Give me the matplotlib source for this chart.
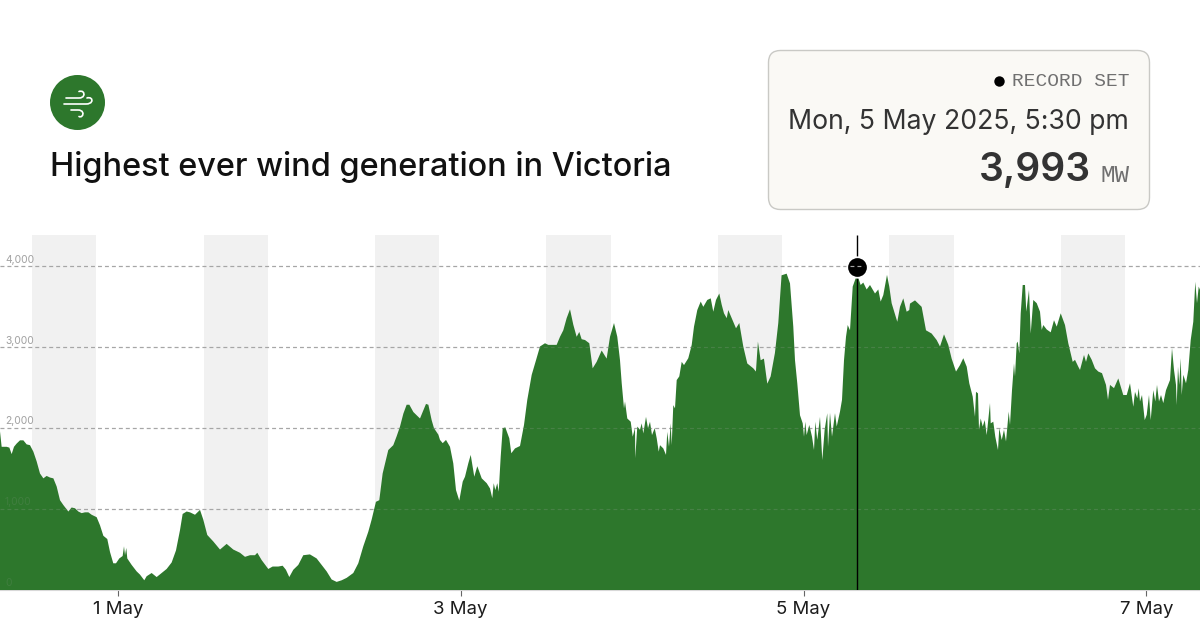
import matplotlib
matplotlib.use("Agg")
import matplotlib.pyplot as plt
from matplotlib.patches import Circle, FancyBboxPatch, PathPatch
from matplotlib.path import Path

# Victorian wind output, hours counted from 30 Apr 07:30 UTC, one pair of lists per stretch
hours_a = [0, .23, .56, .93, 1.31, 1.63, 1.96, 2.33, 2.8, 3.27, 3.73, 4.2, 4.67, 5.13, 5.6, 6.07, 6.53, 7, 7.47, 7.93,
    8.4, 8.87, 9.57, 10.03, 10.5, 10.97, 11.43, 11.9, 12.37, 12.83, 13.53, 14, 14.47, 15.02, 15.4, 15.86, 16.24, 16.7,
    17.17, 17.36, 17.5, 17.68, 17.82, 18.43, 19.13, 19.6, 20.2, 20.53, 21.23, 21.93, 22.63, 23.33, 24.03, 24.64, 25.2,
    25.57, 26.13, 26.6, 27.3, 28, 28.46, 29.02, 29.86, 30.8, 31.73, 32.66, 33.6, 34.3, 35, 35.7, 36.02, 36.63, 37.56,
    38.17, 38.96, 39.57, 40.03, 40.5, 41.06, 41.76, 42.46, 43.39, 44.33, 45.03, 45.73, 46.43, 47.13, 47.83, 48.53,
    49.46, 50.16, 50.86, 51.56, 52.03, 52.63, 53.1, 53.57, 54.36, 55.06, 55.53]
mw_a = [1960, 1770, 1770, 1770, 1760, 1680, 1770, 1810, 1850, 1850, 1800, 1790, 1710, 1590, 1440, 1380, 1410, 1390, 1380, 1280,
    1110, 1050, 970, 1020, 1010, 970, 950, 960, 960, 930, 900, 800, 670, 630, 470, 330, 330, 390,
    420, 540, 430, 520, 390, 310, 230, 190, 120, 170, 210, 160, 210, 260, 340, 490, 740,
    940, 970, 960, 930, 990, 870, 680, 600, 500, 570, 500, 460, 410, 430, 430, 460, 370, 260,
    290, 290, 300, 250, 160, 250, 310, 430, 440, 390, 310, 230, 130, 100, 120, 150,
    210, 330, 540, 720, 870, 1090, 1110, 1440, 1730, 1790, 1900]

hours_b = [56, 56.47, 56.93, 57.31, 57.87, 58.33, 58.8, 59.17, 59.64, 59.97, 60.43, 60.76, 61.37]
mw_b = [2020, 2180, 2290, 2290, 2200, 2160, 2120, 2200, 2300, 2290, 2100, 2000, 1920]

hours_c = [61.6, 61.98, 62.44, 63, 63.46, 63.84, 64.3, 64.78, 65.1, 65.56, 65.9, 66.4, 66.82, 67.44, 68.14, 68.6, 68.92,
    69.12, 69.34, 69.62, 69.82, 70.1, 70.38, 70.74, 71.3, 71.58, 72.1, 72.8, 73.36, 73.82, 74.44, 75.04, 75.6, 76.3]
mw_c = [1855, 1815, 1855, 1770, 1565, 1235, 1105, 1340, 1400, 1565, 1670, 1400, 1530, 1380, 1320, 1255, 1135,
    1320, 1235, 1320, 1215, 1650, 2000, 2010, 1875, 1690, 1750, 1780, 2040, 2350, 2660, 2840, 3010, 3050]

hours_d = [76.76, 77.93, 78.4, 78.86, 79.33, 79.8, 80.26, 80.73, 81.1, 81.43, 81.9, 82.5, 82.97, 83.53, 84.23, 84.93, 85.4,
    85.96, 86.42]
mw_d = [3030, 3030, 3130, 3210, 3360, 3470, 3280, 3130, 3190, 3100, 3090, 3050, 2740, 2820, 2960, 2860, 3130,
    3300, 3130]

hours_e = [86.8, 87.04, 87.36, 87.5, 87.82, 88.3, 88.58, 88.9, 88.94, 89.22, 89.6, 89.84, 90.06, 90.44, 90.72, 91, 91.28,
    91.66, 91.94, 92.22, 92.4, 92.86, 93.24, 93.42, 93.66, 93.9, 94.04, 94.26, 94.5, 94.74, 95.1, 95.44, 95.76, 96.36,
    96.84, 97.16, 97.62, 98.1, 98.46, 99.02, 99.5, 99.86, 100.24, 100.7, 101.04, 101.36, 101.74, 101.96, 102.44, 103.04,
    103.5]
mw_e = [2840, 2555, 2245, 2330, 2120, 2080, 1895, 2000, 1630, 2020, 1980, 2060, 1935, 2140, 2000, 2080, 1915,
    2000, 1875, 1710, 1790, 1750, 1670, 1955, 1770, 2060, 1790, 2285, 2245, 2595, 2640, 2820, 2780, 2865,
    3030, 3255, 3460, 3565, 3500, 3585, 3605, 3440, 3585, 3665, 3525, 3420, 3360, 3460, 3360, 3235,
    3300]

hours_f = [104.06, 104.62, 105.46, 105.83, 106.11, 106.49, 106.95, 107.42, 107.89, 108.49, 108.96, 109.42, 110.13]
mw_f = [3010, 2800, 2740, 2700, 3070, 2840, 2860, 2550, 2640, 2930, 3300, 3890, 3910]

hours_g = [110.6, 111.06, 111.3, 111.62, 112, 112.38, 112.56, 112.74, 112.93, 113.3, 113.68, 113.96, 114.14, 114.42, 114.8,
    115.12, 115.45, 115.82, 115.92, 116.2, 116.48, 116.9, 117.14, 117.6, 117.88, 118.16, 118.44, 118.68, 119, 119.38,
    119.8, 120.12, 120.49, 120.86, 121.33, 121.8, 122.5, 122.96, 123.29, 123.66, 124.18, 124.5, 124.83, 125.62, 126,
    126.46, 126.93, 127.3]
mw_g = [3790, 3255, 2840, 2555, 2160, 2060, 1895, 2080, 1915, 2040, 1895, 1730, 2080, 1855, 2140,
    1605, 1980, 2185, 1770, 2190, 1895, 2185, 2020, 2205, 2350, 2840, 3130, 3275, 3210, 3750,
    3855, 3870, 3770, 3800, 3715, 3770, 3665, 3715, 3565, 3645, 3895, 3750, 3545, 3315, 3500,
    3605, 3440, 3460]

hours_h = [127.4, 128.1, 129.03, 129.64, 130.43, 131.13, 131.6, 132.16, 132.76, 133.23, 133.84]
mw_h = [3540, 3580, 3500, 3210, 3170, 3090, 3010, 3160, 3030, 2860, 2700]

hours_i = [134.4, 134.86, 135.34, 135.7, 136.18, 136.5, 136.64, 136.92, 137.06, 137.3, 137.58, 137.86, 138.14, 138.6, 138.7,
    139.06, 139.34, 139.72, 139.9, 140.24, 140.56, 140.84, 141.22, 141.4, 141.68, 141.96, 142.1, 142.34, 142.48, 142.7,
    142.9, 143.18, 143.5, 143.68, 144.06, 144.3, 144.66, 145.14, 145.6, 145.84, 146.06, 146.54, 147.1, 147.56, 147.94,
    148.5, 149.1, 149.56, 150.18, 150.5, 150.96]
mw_i = [2780, 2865, 2760, 2555, 2390, 2140, 2450, 2430, 1980, 2120, 2020, 2100, 1915, 2310, 2060,
    2080, 1895, 1730, 2000, 1855, 1980, 1835, 2205, 2040, 2470, 2800, 2640, 3050, 3070, 2925,
    3420, 3770, 3770, 3440, 3710, 3170, 3585, 3545, 3440, 3215, 3275, 3220, 3185, 3335, 3255,
    3420, 3275, 3050, 2820, 2845, 2760]

hours_j = [151.2, 151.76, 152.04, 152.36, 152.84, 153.3, 153.76, 154.28, 154.84, 155.12, 155.4, 155.96, 156.56, 157.26, 157.74,
    158.2, 158.66, 158.9, 159.22, 159.42, 159.6, 159.88, 160.26, 160.54, 160.86, 161.1, 161.46, 161.74, 161.98, 162.26,
    162.54, 162.86, 163.24, 163.8, 164.08, 164.36, 164.64, 164.74, 164.92, 165.1, 165.3, 165.44, 165.66, 166.04, 166.36,
    166.7, 167.06, 167.34, 167.58, 167.82, 168]
mw_j = [2720, 2905, 2820, 2925, 2845, 2740, 2700, 2680, 2535, 2350, 2535, 2495, 2615, 2410, 2410,
    2555, 2265, 2450, 2370, 2495, 2330, 2410, 2100, 2165, 2410, 2100, 2470, 2330, 2535, 2330,
    2410, 2310, 2470, 2595, 2990, 2720, 2535, 2285, 2760, 2535, 2865, 2410, 2660, 2555, 2720,
    3090, 3315, 3810, 3545, 3750, 3710]

# Overnight shading (22:00 to 07:00 local), given as hours from the start of the series
night_starts = [4.5, 28.5, 52.5, 76.5, 100.5, 124.5, 148.5]
night_length = 9
y_ticks = [0, 1000, 2000, 3000, 4000]
y_labels = ["0", "1,000", "2,000", "3,000", "4,000"]
x_ticks = [16.5, 64.5, 112.5, 160.5]
x_labels = ["1 May", "3 May", "5 May", "7 May"]
record_hour = 120
record_mw = 3993

GREEN = "#2d772c"
GRID = "#a6a6a6"
SANS = ["Inter", "DejaVu Sans"]
MONO = ["Liberation Mono", "DejaVu Sans Mono"]

hours = (hours_a + hours_b + hours_c + hours_d + hours_e + hours_f + hours_g + hours_h + hours_i + hours_j)
mw = (mw_a + mw_b + mw_c + mw_d + mw_e + mw_f + mw_g + mw_h + mw_i + mw_j)

W, H = 1200, 630
fig = plt.figure(figsize=(12, 6.3), dpi=100, facecolor="white")
ax = fig.add_axes([0, (H - 590) / H, 1, (590 - 235) / H])
ax.set_xlim(0, 168)
ax.set_ylim(0, 4388)
for side in ("left", "right", "top"):
    ax.spines[side].set_visible(False)
ax.spines["bottom"].set_color("#d8d8d8")
ax.spines["bottom"].set_linewidth(0.8)

for start in night_starts:
    ax.axvspan(start, start + night_length, color="#f1f1f1", lw=0, zorder=1)

ax.set_yticks([])
for value, label in zip(y_ticks, y_labels):
    # Drawn once under the area and again faintly over it, so labels still show through the fill
    for z, opacity in ((2, 1.0), (4, 0.16)):
        ax.text(0.7, value + 22, label, fontsize=7.4, color="#a4a4a4", family=SANS,
                ha="left", va="bottom", zorder=z, alpha=opacity)
    if value:
        ax.axhline(value, color=GRID, lw=0.85, dashes=(3.3, 2.6), zorder=2)
        ax.axhline(value, color=GRID, lw=0.85, dashes=(3.3, 2.6), zorder=4, alpha=0.22)

ax.fill_between(hours, mw, 0, color=GREEN, lw=0, zorder=3)

ax.set_xticks(x_ticks, x_labels, fontsize=13.4, family=SANS, color="#1c1c1c")
ax.tick_params(axis="x", length=4, width=0.8, color="#666666", pad=4)

# Record marker: a leader line with a gap around the dot
ax.plot([record_hour, record_hour], [0, 4388], color="black", lw=1, zorder=5, solid_capstyle="butt")
ax.plot([record_hour], [record_mw], "o", ms=15, mfc="white", mec="white", zorder=6)
ax.plot([record_hour], [record_mw], "o", ms=13.5, mfc="black", mec="black", mew=0, zorder=7)
ax.axhline(4000, color=GRID, lw=0.85, dashes=(3.3, 2.6), zorder=8,
           xmin=(record_hour - 1) / 168, xmax=(record_hour + 1) / 168)

# Header layer in pixel coordinates
top = fig.add_axes([0, 0, 1, 1], facecolor="none")
top.set_xlim(0, W)
top.set_ylim(H, 0)
top.axis("off")

top.add_patch(Circle((77.5, 102.5), 27.5, color=GREEN, lw=0))
gust_paths = [
    [(Path.MOVETO, (66, 98)), (Path.LINETO, (79, 98)), (Path.CURVE4, (84, 98)), (Path.CURVE4, (85, 94)), (Path.CURVE4, (83, 92)), (Path.CURVE4, (82, 91)), (Path.CURVE4, (80, 91)), (Path.CURVE4, (79, 91.5))],
    [(Path.MOVETO, (64, 104)), (Path.LINETO, (86, 104)), (Path.CURVE4, (92, 104)), (Path.CURVE4, (93, 100)), (Path.CURVE4, (91, 98.5)), (Path.CURVE4, (90, 97.5)), (Path.CURVE4, (88, 97.5)), (Path.CURVE4, (87, 98))],
    [(Path.MOVETO, (71, 110)), (Path.LINETO, (78, 110)), (Path.CURVE4, (83, 110)), (Path.CURVE4, (84, 114)), (Path.CURVE4, (82, 116)), (Path.CURVE4, (81, 117)), (Path.CURVE4, (80, 117)), (Path.CURVE4, (79, 116.5))],
]
for segs in gust_paths:
    codes, verts = zip(*segs)
    top.add_patch(PathPatch(Path(verts, codes), fc="none", ec="white", lw=1.2, capstyle="round"))

top.text(50, 167, "Highest ever wind generation in Victoria", fontsize=23.4, family=SANS,
         fontweight="medium", color="#111111", ha="left", va="center")

top.add_patch(FancyBboxPatch((768.5 + 12, 50.5 + 12), 381 - 24, 159 - 24,
                             boxstyle="round,pad=12,rounding_size=12", fc="#faf9f5", ec="#c9c9c5", lw=1))
top.plot([998.5], [80.5], "o", ms=7.5, color="black", mew=0)
top.text(1129, 82, "RECORD SET", fontsize=14, family=MONO, color="#707070", ha="right", va="center")
top.text(1129, 122, "Mon, 5 May 2025, 5:30 pm", fontsize=19.15, family=SANS, color="#333333", ha="right", va="center")
top.text(1091, 171, f"{record_mw:,}", fontsize=28, family=SANS, fontweight="semibold", color="#333333", ha="right", va="center")
top.text(1129, 175, "MW", fontsize=17.5, family=MONO, color="#707070", ha="right", va="center")

fig.savefig("out.png", dpi=100)
